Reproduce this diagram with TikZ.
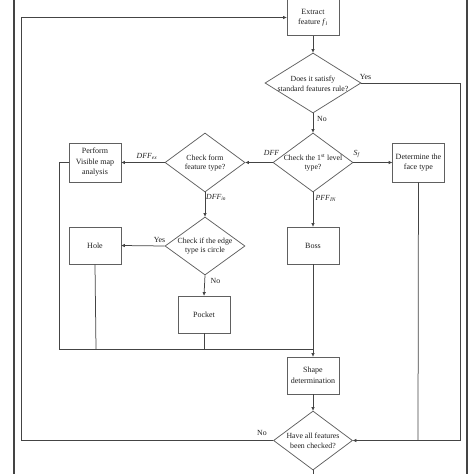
\documentclass[tikz,border=0pt]{standalone}
\usepackage{fontspec}
\setmainfont{Liberation Serif}
\usetikzlibrary{shapes.geometric,arrows.meta}
\definecolor{ln}{HTML}{444444}
\definecolor{bx}{HTML}{606060}
\definecolor{tx}{HTML}{1E1E1E}
\tikzset{
  box/.style={draw=bx, line width=0.75pt, minimum width=52pt, minimum height=37pt, inner sep=1pt, align=center, text=tx, font=\fontsize{8}{10.5}\selectfont},
  dia/.style={draw=bx, line width=0.75pt, diamond, inner sep=0pt, aspect=1.36},
  dtext/.style={align=center, text=tx, font=\fontsize{7.8}{9.5}\selectfont, inner sep=0pt},
  lab/.style={text=tx, font=\fontsize{7.8}{9}\selectfont, inner sep=0pt},
  conn/.style={draw=ln, line width=0.75pt},
  arr/.style={conn, -{Triangle[length=3.5pt,width=3pt]}},
}
\begin{document}
\begin{tikzpicture}[x=1pt,y=-1pt]
\useasboundingbox (0,0) rectangle (474,474);
\clip (0,0) rectangle (474,474);
% frame
\draw[draw=ln, line width=1.4pt] (14,-10) rectangle (467,490);
% boxes
\node[box, minimum height=36pt] (ext) at (313,17.5) {Extract\\feature \textit{f}\textsubscript{\textit{i}}};
\node[box, minimum height=39pt] (perf) at (95,162.5) {Perform\\Visible map\\analysis};
\node[box, minimum height=39pt] (det) at (418.5,162.5) {Determine the\\face type};
\node[box] (hole) at (95,245.5) {Hole};
\node[box] (boss) at (313,245.5) {Boss};
\node[box] (pock) at (204,314.5) {Pocket};
\node[box] (shape) at (313,375.5) {Shape\\determination};
% diamonds
\node[dia, minimum width=96pt, minimum height=60pt, aspect=1.6] (d1) at (313,83) {};
\node[dtext] (d1t) at (313,84) {Does it satisfy\\standard features rule?};
\node[dia, minimum width=80pt, minimum height=59pt] (d2) at (313,162.5) {};
\node[dtext] (d2t) at (313,163) {Check the 1\textsuperscript{st} level\\type?};
\node[dia, minimum width=80pt, minimum height=59pt] (d3) at (205,162.5) {};
\node[dtext] (d3t) at (205,163) {Check form\\feature type?};
\node[dia, minimum width=80pt, minimum height=58pt] (d4) at (205,246) {};
\node[dtext] (d4t) at (205,246) {Check if the edge\\type is circle};
\node[dia, minimum width=79pt, minimum height=59pt] (d5) at (313,440.5) {};
\node[dtext] (d5t) at (313,441) {Have all features\\been checked?};
% helper coordinates
\coordinate (yesR) at (460,83);
\coordinate (yesB) at (460,440.5);
\coordinate (detB) at (418,440.5);
\coordinate (perfL) at (59,162.5);
\coordinate (busL) at (59,349);
\coordinate (busR) at (313,349);
\coordinate (holeB) at (96,349);
\coordinate (pockB) at (204,349);
\coordinate (loopB) at (21,440.5);
\coordinate (loopT) at (21,17.5);
\coordinate (endB) at (313,490);
% connectors
\draw[arr] (ext) -- (d1);
\draw[arr] (d1) -- (d2);
\draw[conn] (d1.east) -- (yesR) -- (yesB);
\draw[arr] (yesB) -- (d5.east);
\draw[conn] (det) -- (detB);
\draw[arr] (d2.west) -- (d3.east);
\draw[arr] (d2.east) -- (det.west);
\draw[arr] (d2.south) -- (boss.north);
\draw[arr] (d3.west) -- (perf.east);
\draw[arr] (d3.south) -- (d4.north);
\draw[arr] (d4.west) -- (hole.east);
\draw[arr] (d4.south) -- (pock.north);
\draw[conn] (perf.west) -- (perfL) -- (busL) -- (busR);
\draw[conn] (hole.south) -- (holeB);
\draw[conn] (pock.south) -- (pockB);
\draw[arr] (boss.south) -- (shape.north);
\draw[arr] (shape) -- (d5);
\draw[conn] (d5.west) -- (loopB) -- (loopT);
\draw[arr] (loopT) -- (ext.west);
\draw[conn] (d5.south) -- (endB);
% labels
\node[lab] (lyes1) at (365.5,77) {Yes};
\node[lab, anchor=west] (lno1) at (317,118.5) {No};
\node[lab] (ldff) at (271.5,153) {\textit{DFF}};
\node[lab] (lsf) at (357,154) {\textit{S}\textsubscript{\textit{f}}};
\node[lab, anchor=west] (lpff) at (315.5,198) {\textit{PFF}\textsubscript{\textit{IN}}};
\node[lab] (ldffex) at (147,156.5) {\textit{DFF}\textsubscript{\textit{ex}}};
\node[lab, anchor=west] (ldffin) at (206,197) {\textit{DFF}\textsubscript{\textit{in}}};
\node[lab] (lyes2) at (159.5,240) {Yes};
\node[lab, anchor=west] (lno2) at (210.5,281) {No};
\node[lab] (lno3) at (262,433) {No};
\end{tikzpicture}
\end{document}
